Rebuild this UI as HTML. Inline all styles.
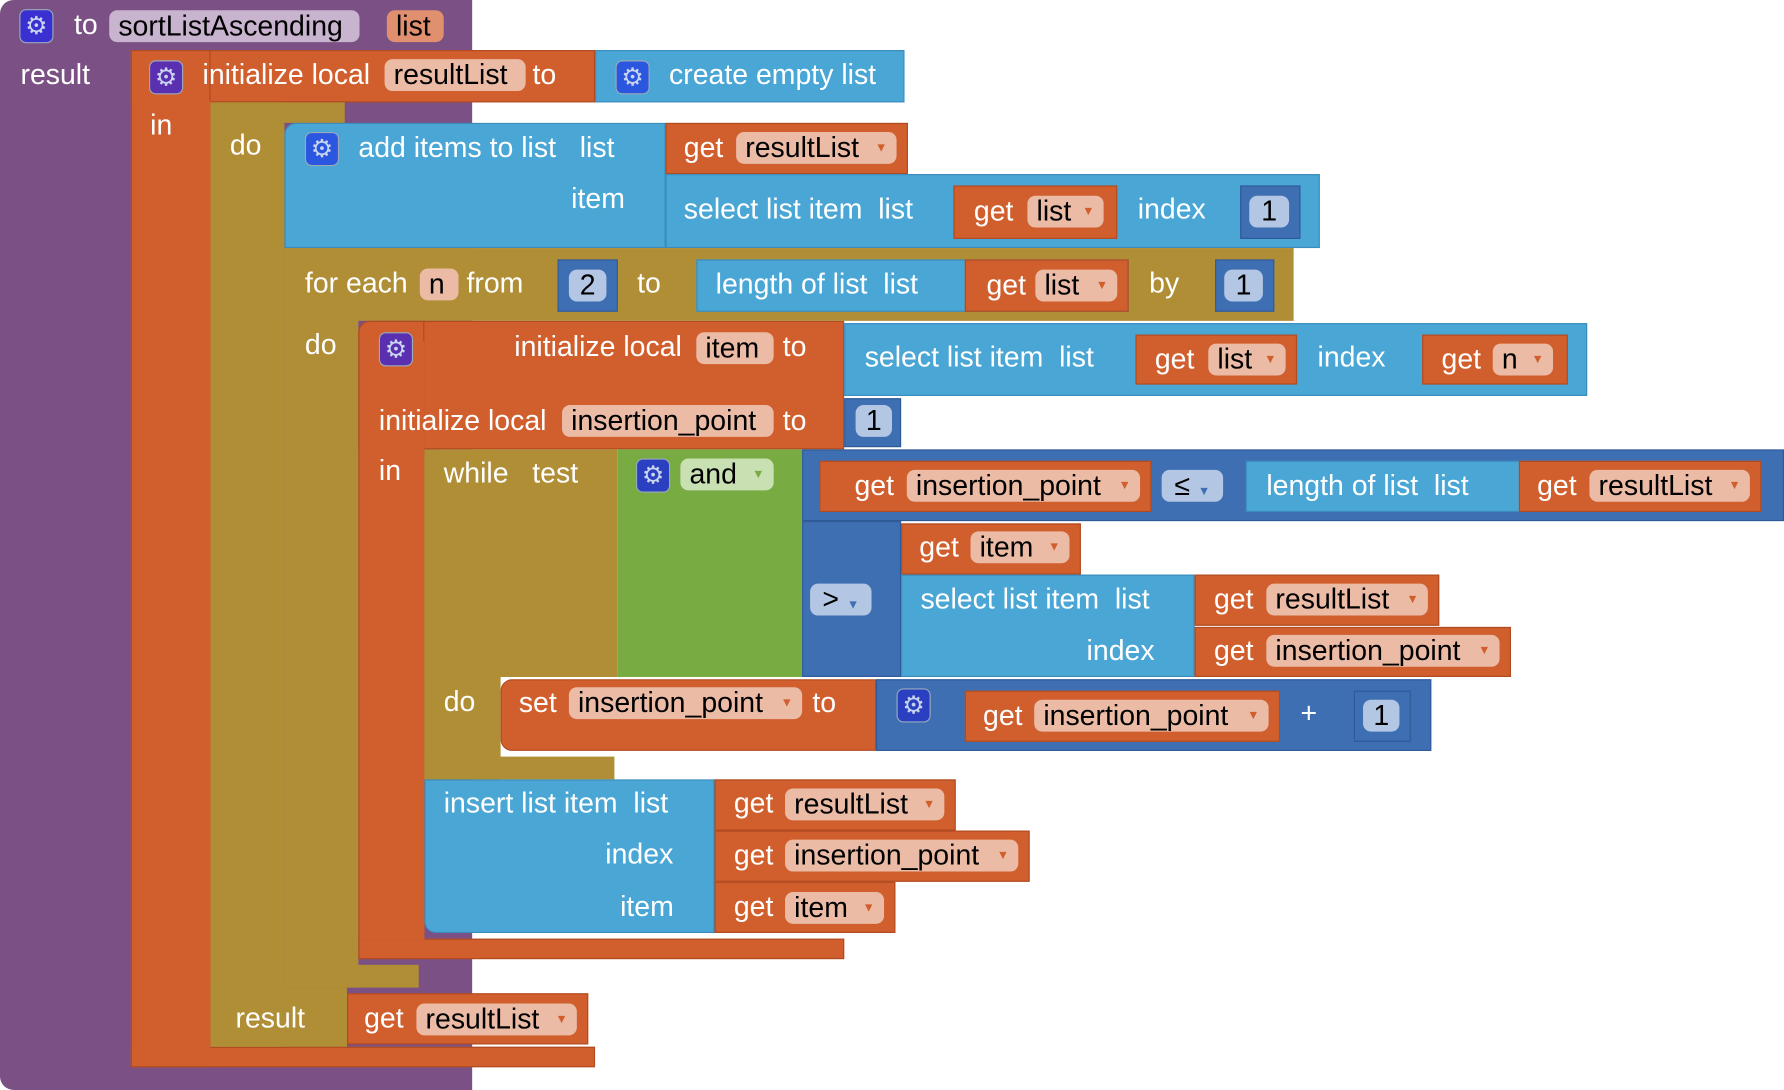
<!DOCTYPE html>
<html><head><meta charset="utf-8"><style>
html,body{margin:0;padding:0;background:#fff;width:1784px;height:1090px;overflow:hidden}
#w{position:absolute;left:0;top:0;width:1568px;height:958px;transform:scale(1.13776);transform-origin:0 0;font-family:"Liberation Sans",sans-serif}
.b{position:absolute;box-sizing:border-box}
.P{background:#7b5185}.O{background:#d15f2d;border:1px solid #b04a20}.L{background:#b08e36}.B{background:#4aa6d5;border:1px solid #3a8cbc}.D{background:#3e6fb3;border:1px solid #2f5a98}.G{background:#78ab41}
.t{position:absolute;color:#fff;font-size:25px;line-height:28px;white-space:pre}
.p{position:absolute;height:28px;line-height:28px;font-size:25px;color:#000;border-radius:7px;padding:0 8px;box-sizing:border-box;white-space:pre}
.po{background:#ebbba6}.pn{background:#b3c6e3;text-align:center;padding:0}.pp{background:#c9b4cf}.pg{background:#c9e0b2}
.ar{position:absolute;right:8px;top:0;font-size:11px;color:#d15f2d}
.g{position:absolute;width:28px;height:28px;border-radius:6px;color:#c8d4f0;font-size:22px;line-height:28px;text-align:center;border:1px solid #9ab}
</style></head><body><div id="w">
<!-- purple -->
<div class="b P" style="left:0;top:0;width:415px;height:958px;border-radius:12px 0 0 12px"></div>
<div class="g" style="left:17px;top:8px;background:#3a2fd0">⚙</div>
<div class="t" style="left:65px;top:8px">to</div>
<div class="p pp" style="left:96px;top:9px;width:220px">sortListAscending</div>
<div class="p" style="left:340px;top:9px;width:50px;background:#e0906e">list</div>
<div class="t" style="left:18px;top:52px">result</div>
<!-- orange init -->
<div class="b O" style="left:115px;top:44px;width:408px;height:46px"></div>
<div class="b O" style="left:115px;top:44px;width:70px;height:894px"></div>
<div class="b O" style="left:115px;top:920px;width:408px;height:18px"></div>
<div class="b" style="left:116px;top:89px;width:69px;height:832px;background:#d15f2d"></div>
<div class="g" style="left:131px;top:53px;background:#5a2fb0">⚙</div>
<div class="t" style="left:178px;top:52px">initialize local</div>
<div class="p po" style="left:338px;top:52px;width:124px">resultList</div>
<div class="t" style="left:468px;top:52px">to</div>
<div class="b B" style="left:523px;top:44px;width:272px;height:46px"></div>
<div class="g" style="left:541px;top:53px;background:#2a56e0">⚙</div>
<div class="t" style="left:588px;top:52px">create empty list</div>
<div class="t" style="left:132px;top:96px">in</div>
<!-- olive do result -->
<div class="b L" style="left:185px;top:90px;width:118px;height:18px"></div>
<div class="b L" style="left:185px;top:90px;width:65px;height:830px"></div>
<div class="b L" style="left:185px;top:868px;width:120px;height:52px"></div>
<div class="t" style="left:202px;top:114px">do</div>
<div class="t" style="left:207px;top:881px">result</div>
<div class="b O" style="left:305px;top:873px;width:212px;height:45px"></div>
<div class="t" style="left:320px;top:881px">get</div>
<div class="p po" style="left:366px;top:882px;width:141px">resultList<span class="ar">▼</span></div>
<!-- add items -->
<div class="b B" style="left:250px;top:108px;width:335px;height:110px;border-radius:10px 0 0 0"></div>
<div class="g" style="left:268px;top:116px;background:#2a56e0">⚙</div>
<div class="t" style="left:315px;top:116px">add items to list   list</div>
<div class="t" style="left:502px;top:161px">item</div>
<div class="b O" style="left:585px;top:108px;width:213px;height:45px"></div>
<div class="t" style="left:601px;top:116px">get</div>
<div class="p po" style="left:647px;top:116px;width:141px">resultList<span class="ar">▼</span></div>
<div class="b B" style="left:585px;top:153px;width:575px;height:65px"></div>
<div class="t" style="left:601px;top:170px">select list item  list</div>
<div class="b O" style="left:838px;top:163px;width:144px;height:47px"></div>
<div class="t" style="left:856px;top:172px">get</div>
<div class="p po" style="left:903px;top:172px;width:67px">list<span class="ar">▼</span></div>
<div class="t" style="left:1000px;top:170px">index</div>
<div class="b D" style="left:1090px;top:163px;width:53px;height:47px"></div>
<div class="p pn" style="left:1098px;top:172px;width:35px">1</div>
<!-- for each -->
<div class="b L" style="left:250px;top:218px;width:887px;height:64px"></div>
<div class="b L" style="left:250px;top:218px;width:65px;height:650px"></div>
<div class="b L" style="left:250px;top:848px;width:118px;height:20px"></div>
<div class="t" style="left:268px;top:235px">for each</div>
<div class="p po" style="left:369px;top:236px;width:34px;padding:0 8px">n</div>
<div class="t" style="left:410px;top:235px">from</div>
<div class="b D" style="left:490px;top:228px;width:53px;height:46px"></div>
<div class="p pn" style="left:500px;top:237px;width:33px">2</div>
<div class="t" style="left:560px;top:235px">to</div>
<div class="b B" style="left:612px;top:228px;width:380px;height:46px"></div>
<div class="t" style="left:629px;top:236px">length of list  list</div>
<div class="b O" style="left:848px;top:228px;width:144px;height:46px"></div>
<div class="t" style="left:867px;top:237px">get</div>
<div class="p po" style="left:910px;top:237px;width:72px">list<span class="ar">▼</span></div>
<div class="t" style="left:1010px;top:235px">by</div>
<div class="b D" style="left:1068px;top:228px;width:52px;height:46px"></div>
<div class="p pn" style="left:1076px;top:237px;width:34px">1</div>
<div class="t" style="left:268px;top:289px">do</div>
<!-- init local item -->
<div class="b O" style="left:315px;top:282px;width:427px;height:113px;border-radius:10px 0 0 0"></div>
<div class="b O" style="left:315px;top:282px;width:58px;height:561px;border-radius:10px 0 0 10px"></div>
<div class="b O" style="left:315px;top:825px;width:427px;height:18px"></div>
<div class="b" style="left:316px;top:300px;width:57px;height:526px;background:#d15f2d"></div>
<div class="g" style="left:333px;top:292px;background:#5a2fb0">⚙</div>
<div class="t" style="left:452px;top:291px">initialize local</div>
<div class="p po" style="left:612px;top:292px;width:68px">item</div>
<div class="t" style="left:688px;top:291px">to</div>
<div class="b B" style="left:742px;top:284px;width:653px;height:64px"></div>
<div class="t" style="left:760px;top:300px">select list item  list</div>
<div class="b O" style="left:998px;top:294px;width:142px;height:44px"></div>
<div class="t" style="left:1015px;top:302px">get</div>
<div class="p po" style="left:1062px;top:302px;width:68px">list<span class="ar">▼</span></div>
<div class="t" style="left:1158px;top:300px">index</div>
<div class="b O" style="left:1250px;top:294px;width:128px;height:44px"></div>
<div class="t" style="left:1267px;top:302px">get</div>
<div class="p po" style="left:1312px;top:302px;width:53px">n<span class="ar">▼</span></div>
<div class="t" style="left:333px;top:356px">initialize local</div>
<div class="p po" style="left:494px;top:356px;width:186px">insertion_point</div>
<div class="t" style="left:688px;top:356px">to</div>
<div class="b D" style="left:742px;top:350px;width:50px;height:43px"></div>
<div class="p pn" style="left:752px;top:356px;width:32px">1</div>
<div class="t" style="left:333px;top:400px">in</div>
<!-- while -->
<div class="b L" style="left:373px;top:395px;width:170px;height:200px;border-radius:10px 0 0 0"></div>
<div class="b L" style="left:373px;top:395px;width:67px;height:290px"></div>
<div class="b L" style="left:373px;top:665px;width:167px;height:20px"></div>
<div class="t" style="left:390px;top:402px">while   test</div>
<div class="t" style="left:390px;top:603px">do</div>
<div class="b G" style="left:543px;top:395px;width:162px;height:200px"></div>
<div class="g" style="left:559px;top:403px;background:#2a40c0">⚙</div>
<div class="p pg" style="left:598px;top:403px;width:82px">and<span class="ar" style="color:#78ab41">▼</span></div>
<div class="b D" style="left:705px;top:395px;width:863px;height:63px"></div>
<div class="b O" style="left:720px;top:405px;width:292px;height:45px"></div>
<div class="t" style="left:751px;top:413px">get</div>
<div class="p po" style="left:797px;top:413px;width:205px">insertion_point<span class="ar">▼</span></div>
<div class="p pn" style="left:1021px;top:413px;width:54px">≤ <span style="font-size:11px;color:#3e6fb3">▼</span></div>
<div class="b B" style="left:1095px;top:405px;width:453px;height:45px"></div>
<div class="t" style="left:1113px;top:413px">length of list  list</div>
<div class="b O" style="left:1335px;top:405px;width:213px;height:45px"></div>
<div class="t" style="left:1351px;top:413px">get</div>
<div class="p po" style="left:1397px;top:413px;width:141px">resultList<span class="ar">▼</span></div>
<div class="b D" style="left:705px;top:458px;width:87px;height:137px"></div>
<div class="p pn" style="left:712px;top:513px;width:54px">&gt; <span style="font-size:11px;color:#3e6fb3">▼</span></div>
<div class="b O" style="left:792px;top:460px;width:158px;height:45px"></div>
<div class="t" style="left:808px;top:467px">get</div>
<div class="p po" style="left:853px;top:467px;width:87px">item<span class="ar">▼</span></div>
<div class="b B" style="left:792px;top:505px;width:258px;height:90px"></div>
<div class="t" style="left:809px;top:513px">select list item  list</div>
<div class="t" style="left:955px;top:558px">index</div>
<div class="b O" style="left:1050px;top:505px;width:215px;height:45px"></div>
<div class="t" style="left:1067px;top:513px">get</div>
<div class="p po" style="left:1113px;top:513px;width:142px">resultList<span class="ar">▼</span></div>
<div class="b O" style="left:1050px;top:551px;width:278px;height:44px"></div>
<div class="t" style="left:1067px;top:558px">get</div>
<div class="p po" style="left:1113px;top:558px;width:205px">insertion_point<span class="ar">▼</span></div>
<!-- set -->
<div class="b O" style="left:440px;top:597px;width:330px;height:63px;border-radius:10px 0 0 10px"></div>
<div class="t" style="left:456px;top:604px">set</div>
<div class="p po" style="left:500px;top:604px;width:205px">insertion_point<span class="ar">▼</span></div>
<div class="t" style="left:714px;top:604px">to</div>
<div class="b D" style="left:770px;top:597px;width:488px;height:63px"></div>
<div class="g" style="left:788px;top:605px;background:#2a40c0">⚙</div>
<div class="b O" style="left:848px;top:607px;width:277px;height:45px"></div>
<div class="t" style="left:864px;top:615px">get</div>
<div class="p po" style="left:909px;top:615px;width:206px">insertion_point<span class="ar">▼</span></div>
<div class="t" style="left:1143px;top:613px">+</div>
<div class="b D" style="left:1190px;top:607px;width:50px;height:45px"></div>
<div class="p pn" style="left:1198px;top:615px;width:32px">1</div>
<!-- insert -->
<div class="b B" style="left:373px;top:685px;width:255px;height:135px;border-radius:0 0 0 10px"></div>
<div class="t" style="left:390px;top:692px">insert list item  list</div>
<div class="t" style="left:532px;top:737px">index</div>
<div class="t" style="left:545px;top:783px">item</div>
<div class="b O" style="left:628px;top:685px;width:212px;height:45px"></div>
<div class="t" style="left:645px;top:692px">get</div>
<div class="p po" style="left:690px;top:693px;width:140px">resultList<span class="ar">▼</span></div>
<div class="b O" style="left:628px;top:730px;width:277px;height:45px"></div>
<div class="t" style="left:645px;top:738px">get</div>
<div class="p po" style="left:690px;top:738px;width:205px">insertion_point<span class="ar">▼</span></div>
<div class="b O" style="left:628px;top:775px;width:159px;height:45px"></div>
<div class="t" style="left:645px;top:783px">get</div>
<div class="p po" style="left:690px;top:784px;width:87px">item<span class="ar">▼</span></div>
</div></body></html>
